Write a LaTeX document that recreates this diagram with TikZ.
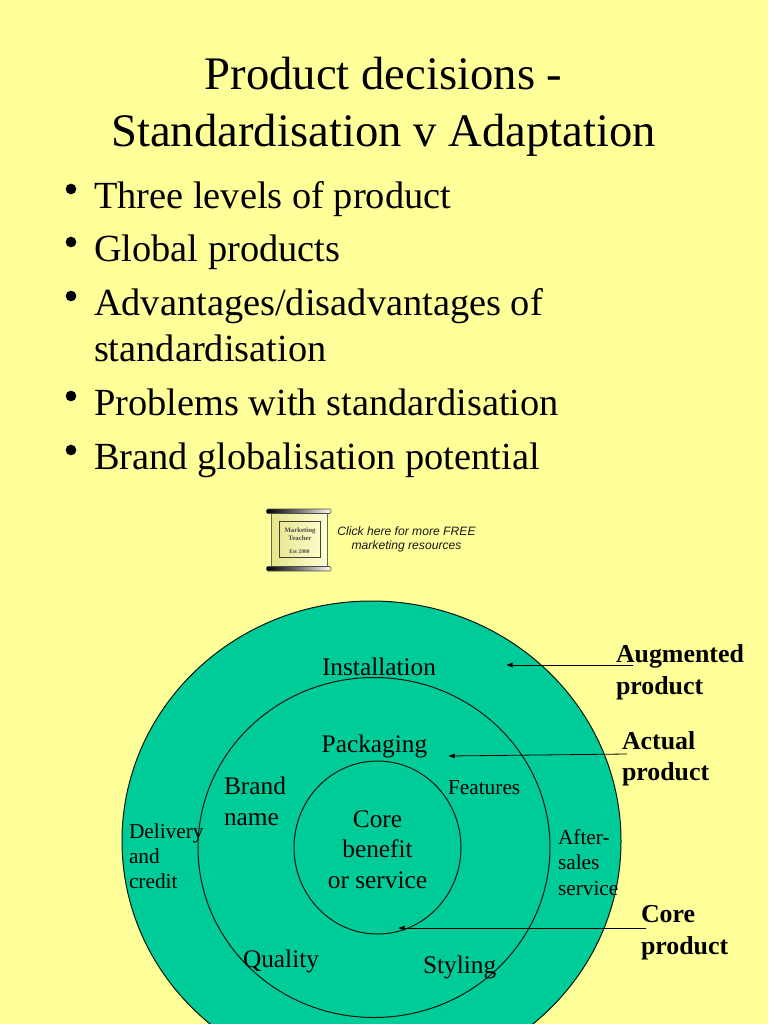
\documentclass[tikz,border=0pt]{standalone}
\usepackage{fontspec}
\setmainfont{Liberation Serif}
\newfontfamily\logosans{Liberation Sans}
\definecolor{slidebg}{RGB}{255,255,153}
\definecolor{ringgreen}{RGB}{0,204,153}
\definecolor{inkdark}{RGB}{10,20,10}
\usetikzlibrary{arrows.meta}
\tikzset{
  x=0.75pt,y=-0.75pt,
  ring/.style={draw=inkdark,line width=0.75pt},
  txt/.style={inner sep=0pt,outer sep=0pt,text=black,align=left},
  titletxt/.style={txt,font=\fontsize{35}{42.5}\selectfont,align=center},
  bullettxt/.style={txt,anchor=base west,font=\fontsize{28.8}{35}\selectfont},
  big/.style={txt,font=\fontsize{19}{22.8}\selectfont,anchor=base west},
  small/.style={txt,font=\fontsize{16}{18.8}\selectfont,anchor=base west},
  lab/.style={txt,font=\fontsize{19.4}{23.3}\selectfont\bfseries,anchor=base west},
  arr/.style={draw=black,line width=0.6pt,-{Latex[length=5pt,width=4pt]}},
  roller/.style={rounded corners=1pt,draw=black!70,line width=0.4pt,left color=black,right color=white!85!slidebg,middle color=black!55}
}
\begin{document}
\begin{tikzpicture}
\useasboundingbox (0,0) rectangle (768,1024);
\fill[slidebg] (0,0) rectangle (768,1024);
% title
\node[titletxt] (title) at (383.5,107) {Product decisions -\\Standardisation v Adaptation};
% bullets
\node[bullettxt] (ba) at (94,208.5) {Three levels of product};
\node[bullettxt] (bb) at (94,261.5) {Global products};
\node[bullettxt] (bc) at (94,315.5) {Advantages/disadvantages of};
\node[bullettxt] (bd) at (94,361.5) {standardisation};
\node[bullettxt] (be) at (94,415.5) {Problems with standardisation};
\node[bullettxt] (bf) at (94,469.5) {Brand globalisation potential};
\foreach \n/\yy in {1/208,2/261,3/315,5/415,6/469}{
  \node[circle,fill=black,inner sep=0pt,minimum size=8pt] (dot\n) at (71,\yy-19) {};
}
% logo
\fill[slidebg!70!white,draw=black!60,line width=0.7pt,right color=slidebg!45!white,left color=slidebg!90!black] (271.5,512) rectangle (327,568);
\draw[roller] (266.5,509) rectangle (331,513.5);
\draw[roller] (266.5,566.5) rectangle (331,571);
\draw[black!75,line width=0.6pt] (279,521) rectangle (320,557.5);
\node[txt,align=center,font=\fontsize{5.1}{6.2}\selectfont\bfseries,text=black!70] (logoa) at (300,534) {Marketing\\Teacher};
\node[txt,font=\fontsize{4.2}{5}\selectfont\bfseries,text=black!70] (logob) at (299.5,551.5) {Est 2000};
\node[txt,align=center,font=\logosans\itshape\fontsize{9.1}{10.2}\selectfont,text=black!90] (click) at (406.5,539.5) {Click here for more FREE\\marketing resources};
% circles
\fill[ringgreen,draw=inkdark,line width=0.75pt] (371.5,841) ellipse [x radius=249.5,y radius=240];
\draw[ring] (374,847.5) ellipse [x radius=176,y radius=170];
\draw[ring] (377.5,847.5) ellipse [x radius=83.5,y radius=86.5];
% texts in rings
\node[big,anchor=base] (install) at (379,675) {Installation};
\node[big,anchor=base] (pack) at (374.5,752) {Packaging};
\node[big] (brand) at (224,825) {Brand\\name};
\node[small] (feat) at (448,794) {Features};
\node[big,align=center,anchor=base] (core) at (377.5,888) {Core\\benefit\\or service};
\node[small] (deliv) at (129,888.5) {Delivery\\and\\credit};
\node[small] (after) at (558,895) {After-\\sales\\service};
\node[big] (qual) at (243,967) {Quality};
\node[big] (styl) at (423,973.5) {Styling};
% labels
\node[lab] (aug) at (616,694) {Augmented\\product};
\node[lab] (act) at (622,780.5) {Actual\\product};
\node[lab] (cor) at (641,954) {Core\\product};
% arrows
\coordinate (augs) at (633,665);
\coordinate (auge) at (506,665);
\coordinate (acts) at (627,754);
\coordinate (acte) at (448,756);
\coordinate (cors) at (646,928);
\coordinate (core2) at (398,928);
\draw[arr] (augs) -- (auge);
\draw[arr] (acts) -- (acte);
\draw[arr] (cors) -- (core2);
\end{tikzpicture}
\end{document}
